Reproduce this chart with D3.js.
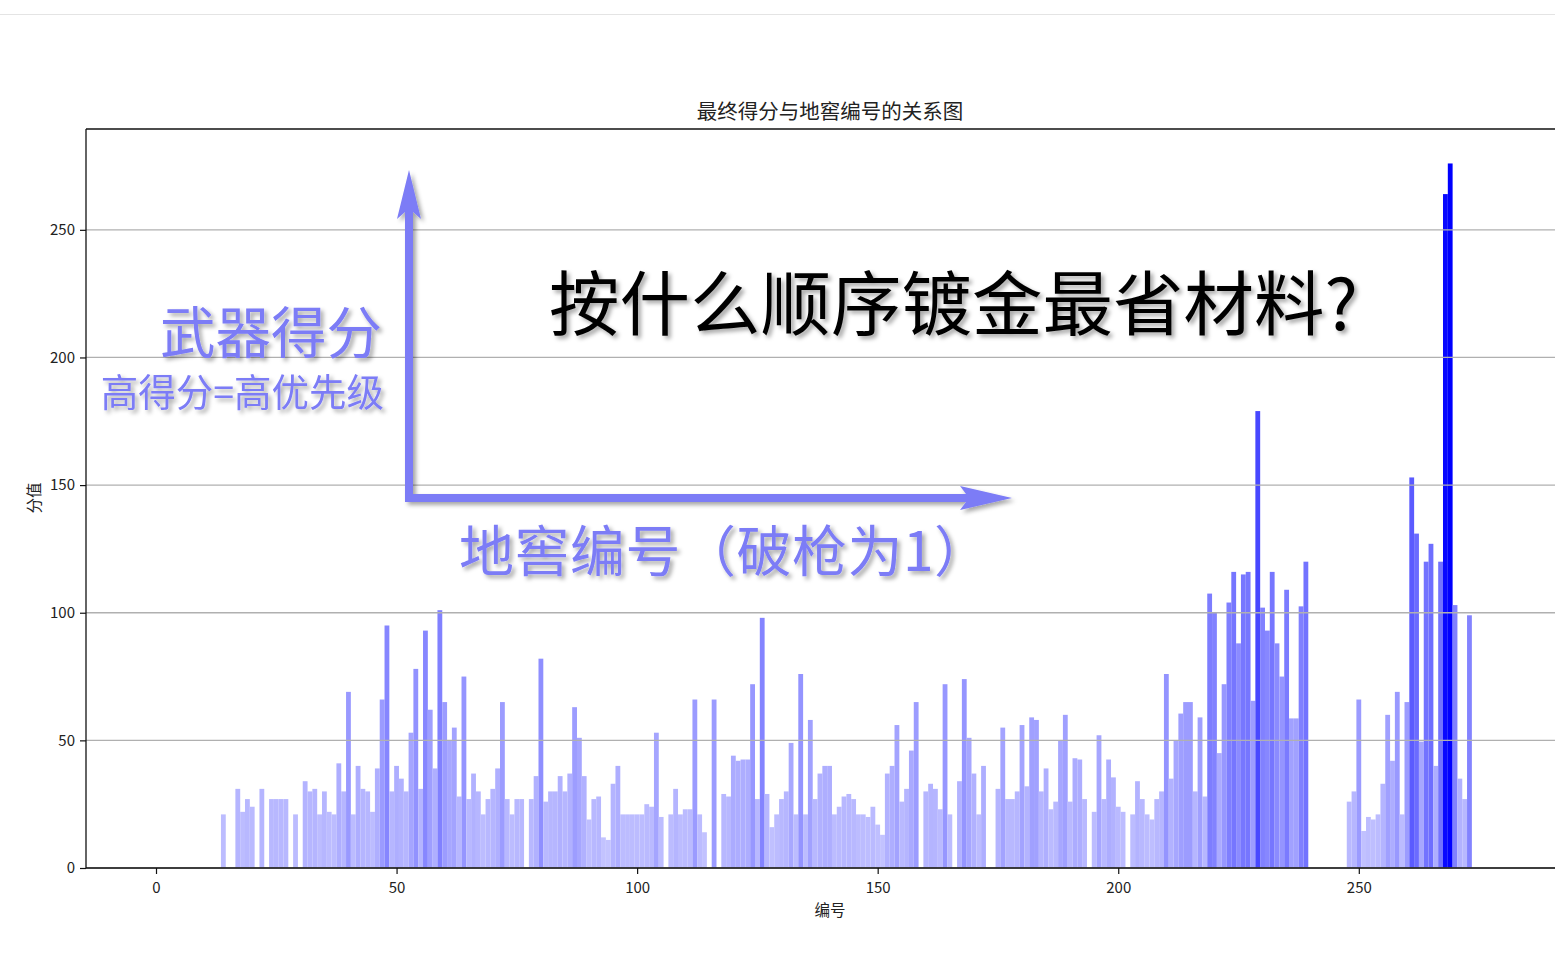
<!DOCTYPE html>
<html><head><meta charset="utf-8">
<script src="https://cdn.jsdelivr.net/npm/d3@7"></script>
<style>
body{margin:0;background:#fff;}
svg{display:block;font-family:"Noto Sans CJK SC","Noto Sans",sans-serif;}
</style>
</head><body>
<svg id="c" width="1555" height="972"></svg>
<script>
// score per 地窖编号 (array position = 编号)
const scores = [
 0,0,0,0,0,0,0,0,0,0, 0,0,0,0,21,0,0,31,22,27,
 24,0,31,0,27,27,27,27,0,21, 0,34,30,31,21,30,22,21,41,30,
 69,21,40,31,30,22,39,66,95,30, 40,35,30,53,78,31,93,62,39,101,
 65,50,55,28,75,27,37,30,21,27, 31,39,65,27,21,27,27,0,27,36,
 82,26,30,30,36,30,37,63,51,36, 19,27,28,12,11,33,40,21,21,21,
 21,21,25,24,53,20,0,21,31,21, 23,23,66,21,14,0,66,0,29,28,
 44,42,42.5,42.5,72,27,98,29,16,21, 27,30,49,21,76,21,58,27,37,40,
 40,21,24,28,29,27,21,21,20,24, 17,13,37,40,56,26,31,46,65,0,
 30,33,31,23,72,21,0,34,74,51, 37,21,40,0,0,31,55,27,27,30,
 56,32,59,58,30,39,23,26,50,60, 26,43,42.5,27,0,22,52,27,42.5,35.5,
 24,22,0,21,34,27,21,19,27,30, 76,35,50,60.5,65,65,30,59,28,107.5,
 100,45,72,104,116,88,115,116,65.5,179, 102,93,116,88,75,109,58.6,58.6,102.5,120,
 0,0,0,0,0,0,0,0,26,30, 66,14.5,20,19,21,33,60,42,69,21,
 65,153,131,49.5,120,127,40,120,264,276, 103,35,27,99
];
const xTicks = [0, 50, 100, 150, 200, 250];
const yTicks = [0, 50, 100, 150, 200, 250];
const chartTitle = "最终得分与地窖编号的关系图";
const xLabel = "编号";
const yLabel = "分值";
const noteMain = "按什么顺序镀金最省材料?";
const noteY1 = "武器得分";
const noteY2 = "高得分=高优先级";
const noteX = "地窖编号（破枪为1）";

const svg = d3.select("#c");
const W = 1555, H = 972;
const L = 86, T = 129, B = 868;

svg.append("rect").attr("width", W).attr("height", H).attr("fill", "#fff");
svg.append("line").attr("x1", 0).attr("x2", W).attr("y1", 14.5).attr("y2", 14.5)
  .attr("stroke", "#e4e4e4").attr("stroke-width", 1);

const defs = svg.append("defs");
const f = defs.append("filter").attr("id", "sh").attr("x", "-10%").attr("y", "-20%").attr("width", "130%").attr("height", "150%");
f.append("feDropShadow").attr("dx", 3).attr("dy", 3).attr("stdDeviation", 2.2)
  .attr("flood-color", "#000").attr("flood-opacity", 0.35);

const x = d3.scaleLinear().domain([-14.55, 250]).range([L, 1358.8]);
const y = d3.scaleLinear().domain([0, 289.5]).range([B, T]);
const maxV = d3.max(scores);
const col = d3.interpolateRgb("#ffffff", "#0000ff");

// bars
svg.append("g").selectAll("rect")
  .data(scores.map((v, i) => ({i, v})).filter(d => d.v > 0))
  .join("rect")
  .attr("x", d => x(d.i - 0.5))
  .attr("width", d => x(d.i + 0.5) - x(d.i - 0.5))
  .attr("y", d => y(d.v))
  .attr("height", d => y(0) - y(d.v))
  .attr("fill", d => col(0.2 + 0.8 * d.v / maxV));

// grid (drawn over bars)
svg.append("g").selectAll("line").data(yTicks).join("line")
  .attr("x1", L).attr("x2", W).attr("y1", d => y(d)).attr("y2", d => y(d))
  .attr("stroke", "#b0b0b0").attr("stroke-width", 1.3);

// frame
const fr = svg.append("g").attr("stroke", "#111").attr("stroke-width", 1.3);
fr.append("line").attr("x1", L).attr("x2", L).attr("y1", T).attr("y2", B);
fr.append("line").attr("x1", L).attr("x2", W).attr("y1", T).attr("y2", T);
fr.append("line").attr("x1", L).attr("x2", W).attr("y1", B).attr("y2", B);

// axes
const gx = svg.append("g").attr("transform", `translate(0,${B})`)
  .call(d3.axisBottom(x).tickValues(xTicks).tickSize(6).tickPadding(8).tickFormat(d3.format("d")));
const gy = svg.append("g").attr("transform", `translate(${L},0)`)
  .call(d3.axisLeft(y).tickValues(yTicks).tickSize(6).tickPadding(5).tickFormat(d3.format("d")));
[gx, gy].forEach(g => {
  g.select(".domain").remove();
  g.selectAll("line").attr("stroke", "#111").attr("stroke-width", 1.2);
  g.selectAll("text").attr("fill", "#222").style("font-size", "15px")
    .style("font-family", '"Noto Sans CJK SC", sans-serif');
});

svg.append("text").attr("x", 830).attr("y", 109.5).attr("text-anchor", "middle")
  .attr("dominant-baseline", "central").attr("fill", "#222").style("font-size", "20.5px")
  .text(chartTitle);
svg.append("text").attr("x", 830).attr("y", 909).attr("text-anchor", "middle")
  .attr("dominant-baseline", "central").attr("fill", "#222").style("font-size", "15.5px")
  .text(xLabel);
svg.append("text").attr("transform", "translate(33,498) rotate(-90)").attr("text-anchor", "middle")
  .attr("dominant-baseline", "central").attr("fill", "#222").style("font-size", "15.5px")
  .text(yLabel);

// annotation arrows
const ac = "#7b7bf6";
const ag = svg.append("g").attr("filter", "url(#sh)").attr("fill", ac);
ag.append("path").attr("d",
  "M405,503 L405,212 L397,219 L409,170 L421,219 L413,212 L413,494 L966,494 L960,486 L1012,498 L960,510 L966,502 L405,502 Z");

// annotation texts
const tg = svg.append("g").attr("filter", "url(#sh)");
tg.append("text").attr("x", 382).attr("y", 329).attr("text-anchor", "end")
  .attr("dominant-baseline", "central").attr("fill", ac).style("font-size", "55.5px").text(noteY1);
tg.append("text").attr("x", 384).attr("y", 389).attr("text-anchor", "end")
  .attr("dominant-baseline", "central").attr("fill", ac).style("font-size", "37.5px").text(noteY2);
tg.append("text").attr("x", 459).attr("y", 547).attr("text-anchor", "start")
  .attr("dominant-baseline", "central").attr("fill", ac).style("font-size", "55px")
  .style("letter-spacing", "0.5px").text(noteX);
tg.append("text").attr("x", 549).attr("y", 299).attr("text-anchor", "start")
  .attr("dominant-baseline", "central").attr("fill", "#000").style("font-size", "70.5px").text(noteMain);
</script>
</body></html>
